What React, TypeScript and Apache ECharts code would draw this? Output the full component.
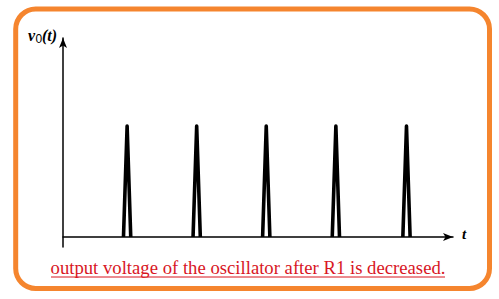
import React, { useEffect, useRef } from "react";
import * as echarts from "echarts";

// Pulse train (time in units of the pulse period)
const pulseCenters = [0.918, 1.914, 2.91, 3.907, 4.918];
const pulseHalfWidth = 0.052;
const pulsePeak = 1;
const baseLevel = 0;
const xRange = [0, 5.584];
const yRange = [-0.09, 1.793];

const yLabelMain = "v";
const yLabelSub = "0";
const yLabelTail = "(t)";
const xLabel = "t";
const caption = "output voltage of the oscillator after R1 is decreased.";

export default function App() {
  const ref = useRef<HTMLDivElement>(null);
  useEffect(() => {
    if (!ref.current) return;
    const chart = echarts.init(ref.current, undefined, { renderer: "svg" });
    const series = pulseCenters.map((c) => ({
      type: "line",
      data: [
        [c - pulseHalfWidth, baseLevel],
        [c, pulsePeak],
        [c + pulseHalfWidth, baseLevel],
      ],
      symbol: "none",
      lineStyle: { color: "#000", width: 3.6, join: "round", cap: "butt" },
      silent: true,
    }));
    const labelFont = {
      fontFamily: "Liberation Serif",
      fontWeight: "bold",
      fontStyle: "italic",
      fill: "#000",
    };
    chart.setOption({
      animation: false,
      backgroundColor: "#fff",
      grid: { left: 63, right: 46, top: 38, bottom: 52 },
      xAxis: {
        type: "value",
        min: xRange[0],
        max: xRange[1],
        axisLine: {
          show: true,
          onZero: true,
          symbol: ["none", "arrow"],
          symbolSize: [6, 10],
          lineStyle: { color: "#000", width: 1.5 },
        },
        axisTick: { show: false },
        axisLabel: { show: false },
        splitLine: { show: false },
      },
      yAxis: {
        type: "value",
        min: yRange[0],
        max: yRange[1],
        axisLine: {
          show: true,
          onZero: true,
          symbol: ["none", "arrow"],
          symbolSize: [6, 10],
          lineStyle: { color: "#000", width: 1.5 },
        },
        axisTick: { show: false },
        axisLabel: { show: false },
        splitLine: { show: false },
      },
      series,
      graphic: [
        {
          type: "rect",
          shape: { x: 15.7, y: 9, width: 473.8, height: 279.5, r: 20 },
          style: { fill: "none", stroke: "#f5852e", lineWidth: 5 },
          silent: true,
        },
        {
          type: "text",
          x: 28,
          y: 35,
          style: { ...labelFont, text: yLabelMain, fontSize: 16, verticalAlign: "middle", align: "left" },
        },
        {
          type: "text",
          x: 35.5,
          y: 39,
          style: { ...labelFont, fontStyle: "normal", fontWeight: "normal", fontFamily: "Liberation Sans", text: yLabelSub, fontSize: 12, verticalAlign: "middle", align: "left" },
        },
        {
          type: "text",
          x: 42,
          y: 35,
          style: { ...labelFont, text: yLabelTail, fontSize: 16, verticalAlign: "middle", align: "left" },
        },
        {
          type: "text",
          x: 462,
          y: 233.5,
          style: { ...labelFont, text: xLabel, fontSize: 15, verticalAlign: "middle", align: "left" },
        },
        {
          type: "text",
          x: 248,
          y: 267.5,
          style: {
            text: caption,
            fontFamily: "Liberation Serif",
            fontSize: 18.7,
            fill: "#d8161f",
            align: "center",
            verticalAlign: "middle",
          },
        },
        {
          type: "line",
          shape: { x1: 51, y1: 277, x2: 445, y2: 277 },
          style: { stroke: "#d8161f", lineWidth: 1 },
        },
      ],
    });
    return () => chart.dispose();
  }, []);
  return (
    <div
      ref={ref}
      style={{ position: "absolute", left: 0, top: 0, width: 499, height: 299, background: "#fff" }}
    />
  );
}
